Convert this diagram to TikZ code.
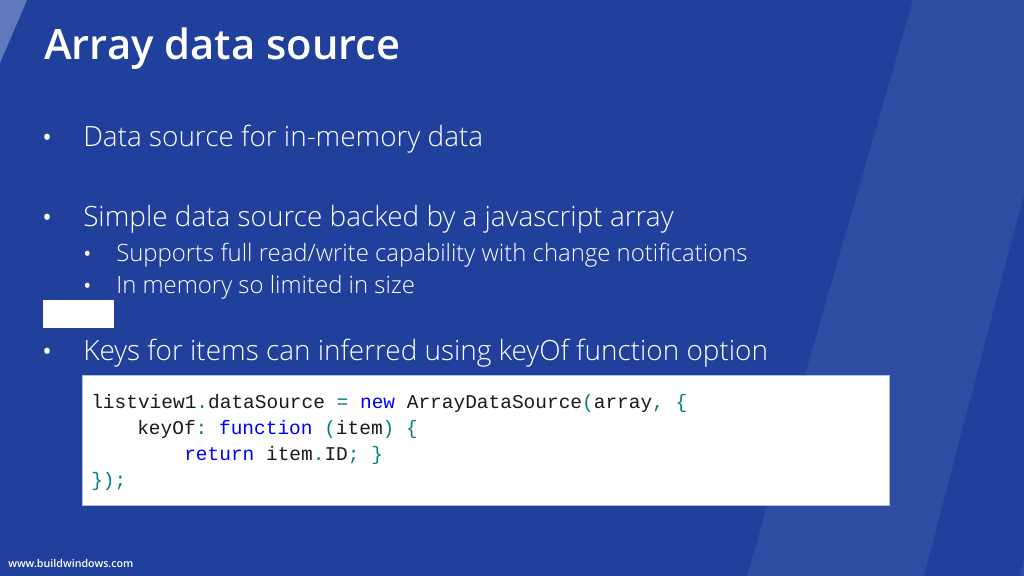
\documentclass[tikz,border=0pt]{standalone}
\usepackage{fontspec}
\setmainfont{Open Sans}
\setmonofont{Liberation Mono}
\IfFontExistsTF{Open Sans Light}{\newfontfamily\lightfont{Open Sans Light}}{\newcommand*{\lightfont}{\normalfont}}
\IfFontExistsTF{Open Sans Semibold}{\newfontfamily\semifont{Open Sans Semibold}}{\newcommand*{\semifont}{\bfseries}}
\usetikzlibrary{positioning}
\definecolor{slide}{RGB}{33,64,155}
\definecolor{band}{RGB}{46,76,161}
\definecolor{corner}{RGB}{96,121,189}
\definecolor{codeteal}{RGB}{0,128,128}
\definecolor{codeblue}{RGB}{0,0,255}
\definecolor{codeink}{RGB}{26,26,26}
\definecolor{boxedge}{RGB}{170,190,230}
\newcommand*{\punct}[1]{\textcolor{codeteal}{#1}}
\newcommand*{\kwd}[1]{\textcolor{codeblue}{#1}}
\tikzset{%
  txt/.style={anchor=base west, inner sep=0, text=white},
  heading/.style={txt, font=\fontsize{29.7}{35}\selectfont\semifont},
  point/.style={txt, font=\fontsize{19.85}{24}\selectfont\lightfont},% first level bullet
  subpoint/.style={txt, font=\fontsize{17}{20}\selectfont\lightfont},% second level bullet
  bulletsign/.style={txt, font=\fontsize{18}{22}\selectfont\normalfont},% bullet sign
  subsign/.style={txt, font=\fontsize{15}{18}\selectfont\normalfont},
  codeline/.style={anchor=base west, inner sep=0, text=codeink, font=\fontsize{13.85}{16}\selectfont\ttfamily},
  footer/.style={txt, font=\fontsize{7.6}{9}\selectfont\semifont}
}
\begin{document}
\begin{tikzpicture}[x=0.025cm, y=-0.025cm]
\useasboundingbox (0,0) rectangle (1024,576);
\begin{scope}
\clip (0,0) rectangle (1024,576);
\fill[slide] (0,0) rectangle (1024,576);
\fill[corner] (0,0) -- (27,0) -- (0,63) -- cycle;
\fill[band] (913,0) -- (1024,0) -- (1024,576) -- (747,576) -- cycle;
\fill[slide] (1075,0) -- (1135,0) -- (1020,576) -- (924,576) -- cycle;
\end{scope}

\node[heading] (title) at (44,60) {Array data source};

\node[bulletsign] (d1) at (42,147) {\textbullet};
\node[point] (p1) at (83,147) {Data source for in-memory data};
\node[bulletsign] (d2) at (42,227) {\textbullet};
\node[point] (p2) at (83,227) {Simple data source backed by a javascript array};
\node[subsign] (e1) at (83,262) {\textbullet};
\node[subpoint] (s1) at (116,262) {Supports full read/write capability with change notifications};
\node[subsign] (e2) at (83,294) {\textbullet};
\node[subpoint] (s2) at (116,294) {In memory so limited in size};
\fill[white] (43,300) rectangle (114,328);
\node[bulletsign] (d3) at (42,360) {\textbullet};
\node[point] (p3) at (83,360) {Keys for items can inferred using keyOf function option};

\draw[boxedge, fill=white] (82,375) rectangle (889,505);
\node[codeline] (c1) at (91,408) {listview1\punct{.}dataSource \punct{=} \kwd{new} ArrayDataSource\punct{(}array\punct{,} \punct{\{}};
\node[codeline] (c2) at (137,434) {keyOf\punct{:} \kwd{function} \punct{(}item\punct{)} \punct{\{}};
\node[codeline] (c3) at (184,460) {\kwd{return} item\punct{.}ID\punct{;} \punct{\}}};
\node[codeline] (c4) at (91,486) {\punct{\});}};

\node[footer] (www) at (8,567) {www.buildwindows.com};
\end{tikzpicture}
\end{document}
